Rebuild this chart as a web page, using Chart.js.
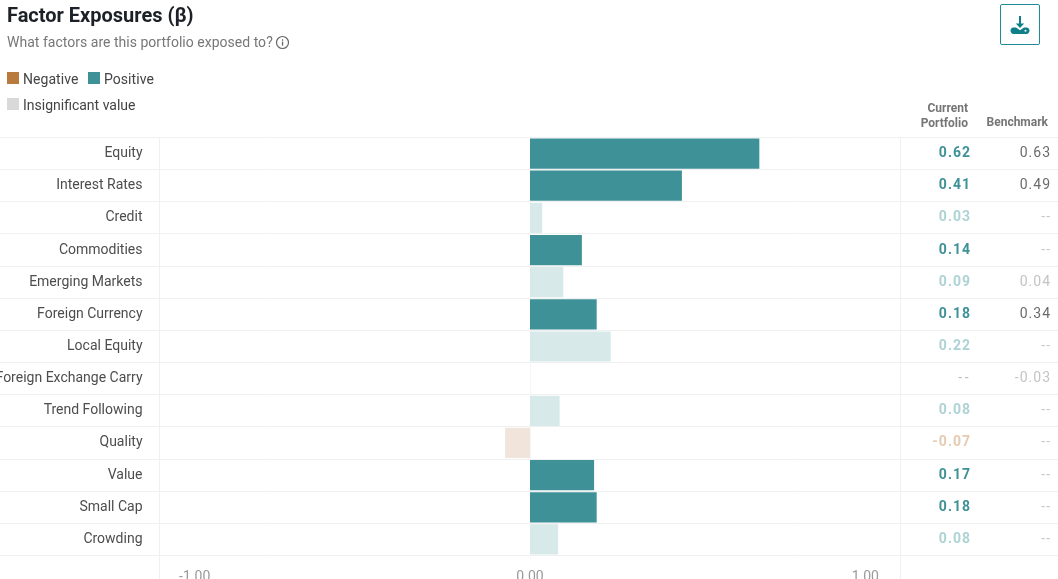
<!DOCTYPE html>
<html><head><meta charset="utf-8">
<script src="https://cdn.jsdelivr.net/npm/chart.js@4"></script>
<style>
html,body{margin:0;padding:0;width:1058px;height:579px;overflow:hidden;background:#fff;font-family:Roboto,sans-serif}
#wrap{position:relative;width:1058px;height:579px;overflow:hidden}
canvas{position:absolute;left:0;top:0}
.t{position:absolute;white-space:nowrap}
#title{left:7px;top:3px;font-size:20px;font-weight:700;color:#1c2127;line-height:24px}
#sub{left:7px;top:33px;font-size:14px;color:#777;line-height:18px;letter-spacing:.02px}
.lg{font-size:14px;color:#444;line-height:18px;letter-spacing:.05px}
.sw{position:absolute;width:12px;height:12px}
.hd{font-size:12px;font-weight:700;color:#757575;line-height:15px;text-align:right}
#btn{position:absolute;left:1000px;top:4px;width:38px;height:39px;border:1px solid #1f8a96;border-radius:2px}
</style></head><body>
<div id="wrap">
<canvas id="c" width="1058" height="600" style="width:1058px;height:600px"></canvas>
<div class="t" id="title">Factor Exposures (β)</div>
<div class="t" id="sub">What factors are this portfolio exposed to?</div>
<svg style="position:absolute;left:275px;top:35px" width="15" height="15" viewBox="0 0 15 15"><circle cx="7.5" cy="7.5" r="6" fill="none" stroke="#666" stroke-width="1.2"/><rect x="6.9" y="6.6" width="1.3" height="4" fill="#666"/><rect x="6.9" y="4.3" width="1.3" height="1.4" fill="#666"/></svg>
<div class="sw" style="left:7px;top:72px;background:#b87a3d"></div><div class="t lg" style="left:23px;top:70px">Negative</div>
<div class="sw" style="left:88px;top:72px;background:#3e9297"></div><div class="t lg" style="left:104px;top:70px">Positive</div>
<div class="sw" style="left:7px;top:98px;background:#d9d9d9"></div><div class="t lg" style="left:23px;top:96px;letter-spacing:0">Insignificant value</div>
<div class="t hd" style="right:90px;top:101px">Current<br>Portfolio</div>
<div class="t hd" style="right:10px;top:115px">Benchmark</div>
<div id="btn"><svg style="position:absolute;left:9px;top:10px" width="20" height="20" viewBox="0 0 20 20"><path d="M9 1h2v7.500h3.200L10 13 5.800 8.500H9z" fill="#0f7f8a"/><path d="M3.500 12.500h2.500l4 2.800 4-2.800h2.500c2 0 3 1.500 3 3S18.500 19 16.500 19h-13c-2 0-3-2-3-3.500s1-3 3-3z" fill="#0f7f8a"/><circle cx="15.500" cy="15.800" r="1" fill="#fff"/></svg></div>
</div>
<script>
const categories=["Equity","Interest Rates","Credit","Commodities","Emerging Markets","Foreign Currency","Local Equity","Foreign Exchange Carry","Trend Following","Quality","Value","Small Cap","Crowding"];
const currentValues=[0.619,0.41,0.033,0.14,0.09,0.18,0.218,null,0.08,-0.067,0.173,0.18,0.076];
const benchmarkValues=[0.63,0.49,null,null,0.04,0.34,null,-0.03,null,null,null,null,null];
const currentSignificant=[true,true,false,true,false,true,false,false,false,false,true,true,false];
const benchmarkSignificant=[true,true,false,false,false,true,false,false,false,false,false,false,false];
const xTickValues=[-1,0,1];

const GRID='#f0f0f0';
const barColor=i=>{const v=currentValues[i];
  if(v===null)return 'transparent';
  if(currentSignificant[i])return v<0?'#b87a3d':'#3e9297';
  return v<0?'#f1e4da':'#d8e9e9';};
const curText=i=>{const v=currentValues[i];
  if(v===null)return '#bdbdbd';
  if(currentSignificant[i])return v<0?'#b87a3d':'#3e9297';
  return v<0?'#e6cbb2':'#aed3d5';};

const overlay={id:'overlay',
 beforeDatasetsDraw(ch){
  const c=ch.ctx,y=ch.scales.y,x=ch.scales.x;
  c.save();c.strokeStyle=GRID;c.lineWidth=1;
  const step=y.getPixelForValue(1)-y.getPixelForValue(0);
  const line=(x0,y0,x1,y1)=>{c.beginPath();c.moveTo(x0,y0);c.lineTo(x1,y1);c.stroke();};
  for(let i=0;i<=categories.length;i++){
    const p=Math.round(y.getPixelForValue(0)-step/2+i*step-.5)+.5;
    line(0,p,ch.width,p);
  }
  line(x.left,y.top,x.left,ch.height);
  line(x.right,y.top,x.right,ch.height);
  c.strokeStyle='#f6f6f6';
  const z=Math.round(x.getPixelForValue(0))+.5;
  line(z,y.top,z,y.bottom+4);
  c.restore();
 },
 afterDatasetsDraw(ch){
  const c=ch.ctx,y=ch.scales.y;
  c.save();c.textAlign='right';c.textBaseline='middle';
  categories.forEach((_,i)=>{
    const p=y.getPixelForValue(i);
    const v=currentValues[i],b=benchmarkValues[i];
    c.letterSpacing=v===null?'2.5px':'1px';
    c.font=(v===null?'400':'700')+' 14px Roboto';
    c.fillStyle=curText(i);
    c.fillText(v===null?'--':v.toFixed(2),971,p);
    c.letterSpacing='1px';
    c.font='400 14px Roboto';
    c.fillStyle=b===null?'#c8c8c8':(benchmarkSignificant[i]?'#6b6b6b':'#c4c4c4');
    c.fillText(b===null?'--':b.toFixed(2),1051,p);
  });
  c.restore();
 }};

new Chart(document.getElementById('c'),{
 type:'bar',
 data:{labels:categories,datasets:[{label:'Current Portfolio',data:currentValues,
   backgroundColor:categories.map((_,i)=>barColor(i)),
   barPercentage:0.94,categoryPercentage:1,xAxisID:'x',yAxisID:'y'}]},
 plugins:[overlay],
 options:{indexAxis:'y',responsive:false,animation:false,devicePixelRatio:1,
  layout:{padding:{top:137.5,right:157.5,left:0,bottom:0}},
  plugins:{legend:{display:false},tooltip:{enabled:false}},
  scales:{
   y:{type:'category',position:'left',grid:{display:false},border:{display:false},
      ticks:{color:'#4d4d4d',font:{family:'Roboto',size:14},padding:9,autoSkip:false},
      afterFit(s){s.width=159.5;}},
   x:{type:'linear',position:'bottom',min:-1,max:1,grid:{display:false},border:{display:false},
      ticks:{display:false},afterFit(s){s.height=0;}},
   x2:{type:'linear',position:'bottom',display:true,min:-1.105,max:1.105,grid:{display:false},border:{display:false},
      afterBuildTicks(s){s.ticks=xTickValues.map(v=>({value:v}));},
      ticks:{color:'#9a9a9a',font:{family:'Roboto',size:14},padding:6,maxRotation:0,autoSkip:false,
        callback:v=>Number(v).toFixed(2)},
      afterFit(s){s.height=44.5;}}
  }}
});
</script>
</body></html>
